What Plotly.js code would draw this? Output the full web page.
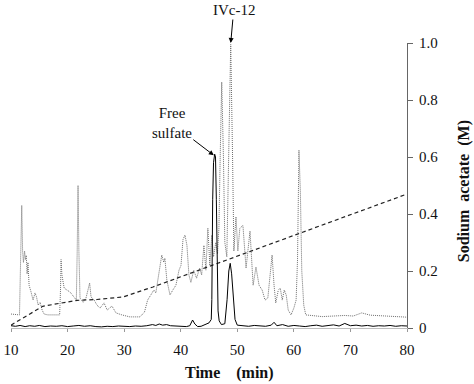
<!DOCTYPE html>
<html>
<head>
<meta charset="utf-8">
<script src="https://cdn.plot.ly/plotly-3.0.1.min.js"></script>
<style>html,body{margin:0;padding:0;background:#fff;}#chart{width:474px;height:384px;}</style>
</head>
<body>
<div id="chart"></div>
<script>
// UV absorbance trace (gray dotted), in right-axis units
var grayT = [
  10.0, 11.5, 11.7, 11.9, 12.05, 12.2, 12.4, 12.55, 12.7, 12.85,
  13.0, 13.2, 13.55, 13.9, 14.25, 14.5, 14.8, 15.15, 15.5, 15.85,
  16.5, 17.5, 18.6, 18.75, 18.85, 19.0, 19.4, 19.9, 20.45, 21.0,
  21.55, 21.7, 21.85, 22.0, 22.2, 22.75, 23.25, 23.6, 23.9, 24.15,
  24.7, 25.2, 25.75, 26.45, 27.0, 27.85, 28.55, 29.6, 31.0, 32.8,
  33.6, 34.15, 34.7, 35.25, 35.6, 35.95, 36.3, 36.65, 37.0, 37.2,
  37.55, 38.1, 38.6, 39.15, 39.7, 40.05, 40.4, 40.75, 41.1, 41.45,
  41.8, 42.3, 42.8, 43.35, 43.7, 44.1, 44.45, 44.8, 45.15, 45.5,
  45.8, 46.2, 46.5, 46.75, 47.0, 47.25, 47.55, 47.8, 48.15, 48.55,
  48.84, 49.15, 49.4, 49.77, 50.1, 50.45, 51.0, 51.55, 52.25, 52.8,
  53.3, 53.85, 54.4, 54.9, 55.4, 55.8, 56.15, 56.5, 56.8, 57.25,
  57.6, 57.95, 58.3, 58.65, 59.0, 59.5, 60.0, 60.4, 60.65, 60.9,
  61.15, 61.4, 61.75, 62.1, 63.5, 65, 67, 69, 70.5, 72,
  73.5, 75, 77, 78.5, 80
];
var grayV = [
  0.049, 0.046, 0.24, 0.43, 0.27, 0.23, 0.27, 0.24, 0.255, 0.19,
  0.23, 0.15, 0.126, 0.098, 0.123, 0.11, 0.08, 0.09, 0.063, 0.049,
  0.046, 0.045, 0.046, 0.133, 0.24, 0.186, 0.14, 0.133, 0.126, 0.112,
  0.098, 0.27, 0.50, 0.27, 0.105, 0.09, 0.105, 0.133, 0.158, 0.109,
  0.098, 0.08, 0.07, 0.088, 0.063, 0.077, 0.053, 0.046, 0.039, 0.039,
  0.056, 0.098, 0.116, 0.133, 0.123, 0.168, 0.203, 0.256, 0.231, 0.245,
  0.168, 0.116, 0.133, 0.15, 0.203, 0.22, 0.31, 0.326, 0.29, 0.186,
  0.16, 0.203, 0.175, 0.21, 0.186, 0.29, 0.203, 0.35, 0.22, 0.326,
  0.25, 0.30, 0.26, 0.35, 0.62, 0.863, 0.60, 0.30, 0.25, 0.70,
  0.995, 0.62, 0.27, 0.39, 0.27, 0.35, 0.36, 0.21, 0.34, 0.15,
  0.214, 0.15, 0.133, 0.098, 0.105, 0.186, 0.256, 0.15, 0.088, 0.133,
  0.14, 0.098, 0.133, 0.116, 0.063, 0.046, 0.07, 0.098, 0.24, 0.624,
  0.48, 0.20, 0.08, 0.046, 0.042, 0.04, 0.042, 0.044, 0.042, 0.053,
  0.045, 0.043, 0.041, 0.04, 0.038
];

// Sulfate trace (black solid)
var blackT = [
  10, 10.8, 11.6, 12.5, 13.3, 14.2, 15,
  16, 17, 18, 19, 20, 21, 22, 23, 24, 25, 26, 27, 28, 29, 30, 31, 32, 33, 34,
  35, 35.6, 36.2, 36.8, 37.5, 38.2, 39, 40, 41,
  41.6, 42.1, 42.5, 43, 43.6, 44.3, 45,
  45.4, 45.5, 45.65, 45.8, 46.0, 46.15, 46.3, 46.45, 46.6, 46.8, 47.2,
  47.8, 48.2, 48.5, 48.75, 49.0, 49.3, 49.6, 50,
  51, 52, 53, 54, 55, 56,
  56.5,
  57, 58, 59, 60, 61, 62, 63, 64, 65, 66, 67, 68, 69, 70, 71, 72, 73, 74, 75, 76, 77, 78, 79, 80
];
var blackV = [
  0.008, 0.006, 0.009, 0.005, 0.008, 0.006, 0.009,
  0.005, 0.007, 0.006, 0.008, 0.005, 0.007, 0.009, 0.006, 0.008, 0.005, 0.004, 0.006, 0.005, 0.007, 0.006, 0.005, 0.007, 0.006, 0.008,
  0.012, 0.009, 0.014, 0.010, 0.012, 0.008, 0.007, 0.006, 0.005,
  0.008, 0.028, 0.014, 0.005, 0.006, 0.012, 0.018,
  0.03, 0.1, 0.45, 0.58, 0.61, 0.6, 0.45, 0.15, 0.06, 0.025, 0.012,
  0.015, 0.1, 0.2, 0.227, 0.19, 0.1, 0.03, 0.01,
  0.008, 0.006, 0.009, 0.007, 0.006, 0.01,
  0.02,
  0.008, 0.012, 0.006, 0.009, 0.007, 0.005, 0.008, 0.01, 0.006, 0.009, 0.011, 0.007, 0.016, 0.008, 0.01, 0.007, 0.009, 0.006, 0.008, 0.007, 0.009, 0.006, 0.008, 0.007
];

// Sodium acetate gradient (dashed)
var gradT = [10, 15.6, 18.7, 21.7, 25.2, 29.8, 35.1, 80];
var gradV = [0.01, 0.076, 0.087, 0.097, 0.1, 0.109, 0.144, 0.47];

var xTickVals = [10, 20, 30, 40, 50, 60, 70, 80];
var xTickText = ['10', '20', '30', '40', '50', '60', '70', '80'];
var yTickVals = [0, 0.2, 0.4, 0.6, 0.8, 1.0];
var yTickText = ['0', '0.2', '0.4', '0.6', '0.8', '1.0'];

var serif = '"Liberation Serif", "Times New Roman", Times, serif';

var traces = [
  {x: grayT, y: grayV, type: 'scatter', mode: 'lines',
   line: {color: '#6e6e6e', width: 1, dash: '1px,1px'}, hoverinfo: 'skip'},
  {x: gradT, y: gradV, type: 'scatter', mode: 'lines',
   line: {color: '#222', width: 1.2, dash: '4px,3px'}, hoverinfo: 'skip'},
  {x: blackT, y: blackV, type: 'scatter', mode: 'lines',
   line: {color: '#000', width: 1}, hoverinfo: 'skip'}
];

var layout = {
  width: 474, height: 384,
  margin: {l: 11, r: 67, t: 43, b: 56},
  paper_bgcolor: '#fff', plot_bgcolor: '#fff',
  showlegend: false,
  font: {family: serif, color: '#111', size: 14},
  xaxis: {
    range: [10, 80], showgrid: false, zeroline: false,
    showline: true, linecolor: '#bdbdbd', linewidth: 1,
    ticks: 'outside', ticklen: 3, tickcolor: '#999', tickwidth: 1,
    tickvals: xTickVals, ticktext: xTickText,
    tickfont: {family: serif, size: 15, color: '#111'},
    ticklabelstandoff: 5
  },
  yaxis: {
    range: [0, 1], side: 'right', showgrid: false, zeroline: false,
    showline: true, linecolor: '#666', linewidth: 1,
    ticks: 'outside', ticklen: 5, tickcolor: '#666', tickwidth: 1,
    tickvals: yTickVals, ticktext: yTickText,
    tickfont: {family: serif, size: 15, color: '#111'},
    ticklabelstandoff: 3
  },
  annotations: [
    {x: 48.84, y: 1.0, xref: 'x', yref: 'y', text: 'IVc-12',
     showarrow: true, arrowhead: 2, arrowsize: 1, arrowwidth: 1, arrowcolor: '#000',
     ax: 3, ay: -33, font: {family: serif, size: 15, color: '#111'}},
    {x: 45.85, y: 0.606, xref: 'x', yref: 'y', text: 'Free<br>sulfate',
     showarrow: true, arrowhead: 2, arrowsize: 1, arrowwidth: 1, arrowcolor: '#000',
     ax: -42, ay: -32, font: {family: serif, size: 15, color: '#111'}},
    {x: 0.552, y: -0.158, xref: 'paper', yref: 'paper', showarrow: false,
     text: '<b>Time\u00a0\u00a0\u00a0\u00a0(min)</b>', xanchor: 'center', yanchor: 'middle',
     font: {family: serif, size: 16, color: '#111'}},
    {x: 1.144, y: 0.48, xref: 'paper', yref: 'paper', showarrow: false,
     text: '<b>Sodium\u00a0\u00a0acetate\u00a0\u00a0(M)</b>', textangle: -90,
     xanchor: 'center', yanchor: 'middle',
     font: {family: serif, size: 16, color: '#111'}}
  ]
};

Plotly.newPlot('chart', traces, layout, {staticPlot: true, displayModeBar: false});
</script>
</body>
</html>
